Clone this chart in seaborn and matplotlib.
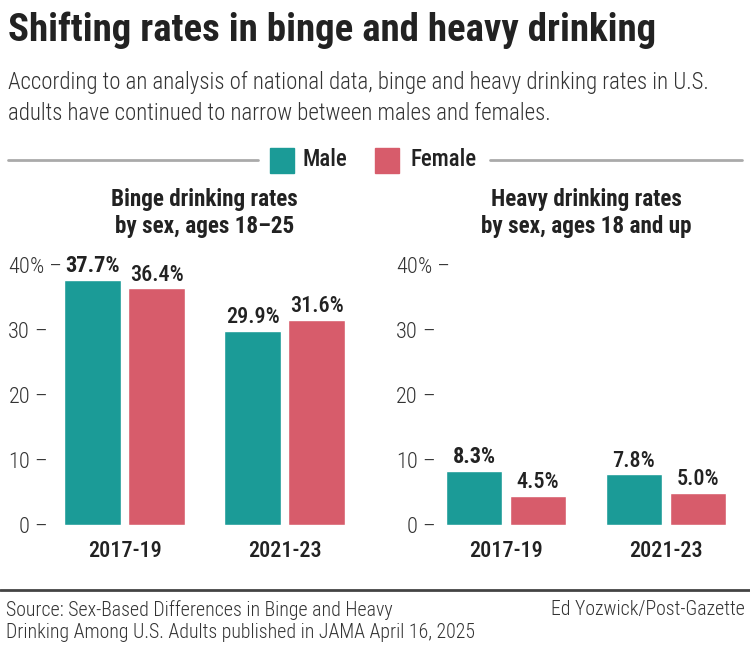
import matplotlib
matplotlib.use("Agg")
import matplotlib.pyplot as plt
import matplotlib.transforms as mtransforms
from matplotlib import font_manager
import pandas as pd
import seaborn as sns

periods = ["2017-19", "2021-23"]
sexes = ["Male", "Female"]
binge_male = [37.7, 29.9]
binge_female = [36.4, 31.6]
heavy_male = [8.3, 7.8]
heavy_female = [4.5, 5.0]
y_ticks = [0, 10, 20, 30, 40]
y_tick_suffix = [" –", " –", " –", " –", "% –"]

TEAL = "#1b9b97"
RED = "#d75c6b"
TEXT = "#222222"
SOFT = "#333333"

sns.set_theme(style="white")

# look for a condensed face; the reference uses a narrow sans
entries = [(f.name, str(f.stretch)) for f in font_manager.fontManager.ttflist]
names = {n for n, _ in entries}
narrow = None
for cand in ["Roboto Condensed", "Liberation Sans Narrow", "Open Sans Condensed",
             "Noto Sans Condensed", "DejaVu Sans Condensed"]:
    if cand in names:
        narrow = cand
        break
stretch = "normal"
if narrow is None:
    for n, s in entries:
        if s in ("condensed", "semi-condensed", "extra-condensed") or \
                ("Condensed" in n or "Narrow" in n):
            narrow = n
            stretch = s
            break
if narrow is None:
    narrow = "Roboto"
plt.rcParams["font.family"] = [narrow, "Roboto", "DejaVu Sans"]
plt.rcParams["font.stretch"] = stretch


def make_frame(male, female):
    rows = []
    for i, p in enumerate(periods):
        rows.append({"period": p, "sex": "Male", "rate": male[i]})
        rows.append({"period": p, "sex": "Female", "rate": female[i]})
    return pd.DataFrame(rows)


def draw_panel(ax, frame, title, num_gap):
    sns.barplot(data=frame, x="period", y="rate", hue="sex", hue_order=sexes,
                palette=[TEAL, RED], width=0.8, gap=0.11, saturation=1,
                legend=False, ax=ax)
    top = frame["rate"].max()
    for cont in ax.containers:
        for bar, v in zip(cont, cont.datavalues):
            ax.annotate(f"{v:.1f}%", (bar.get_x() + bar.get_width() / 2, v),
                        xytext=(0, 2), textcoords="offset points",
                        ha="center", va="bottom", fontsize=16, color=TEXT,
                        fontweight="bold" if v == top else "medium")
    ax.set_xlim(-0.5, 1.5)
    ax.set_ylim(0, 42)
    # numbers right-aligned, suffix hanging to the right (e.g. "40% –")
    ax.set_yticks(y_ticks)
    ax.set_yticklabels([str(t) for t in y_ticks], fontsize=16, color=SOFT,
                       fontweight="light")
    ax.tick_params(axis="y", length=0, pad=num_gap * 72 / 100)
    shift = mtransforms.ScaledTranslation(-num_gap / 100, 0, fig.dpi_scale_trans)
    trans = mtransforms.blended_transform_factory(ax.transAxes, ax.transData) + shift
    for t, suf in zip(y_ticks, y_tick_suffix):
        ax.text(0, t, suf, transform=trans, ha="left", va="center_baseline",
                fontsize=16, color=SOFT, fontweight="light")
    ax.tick_params(axis="x", length=0, pad=11, labelsize=16, labelcolor=TEXT)
    for lab in ax.get_xticklabels():
        lab.set_fontweight("medium")
    for s in ax.spines.values():
        s.set_visible(False)
    ax.set_xlabel("")
    ax.set_ylabel("")
    pos = ax.get_position()
    cx = pos.x0 + pos.width / 2
    fig.text(cx, 1 - 200 / 649, title[0], ha="center", va="center",
             fontsize=16.7, fontweight="bold", color=TEXT)
    fig.text(cx, 1 - 226 / 649, title[1], ha="center", va="center",
             fontsize=16.7, fontweight="bold", color=TEXT)


fig = plt.figure(figsize=(7.5, 6.49), dpi=100)
ax1 = fig.add_axes([44.5 / 750, 124 / 649, 320 / 750, 273 / 649])
ax2 = fig.add_axes([426 / 750, 124 / 649, 320 / 750, 273 / 649])

draw_panel(ax1, make_frame(binge_male, binge_female),
           ["Binge drinking rates", "by sex, ages 18–25"], 14.5)
draw_panel(ax2, make_frame(heavy_male, heavy_female),
           ["Heavy drinking rates", "by sex, ages 18 and up"], 8)

fig.text(8 / 750, 1 - 30 / 649, "Shifting rates in binge and heavy drinking",
         fontsize=28, fontweight="black", color=TEXT, va="center")
fig.text(8 / 750, 1 - 82 / 649,
         "According to an analysis of national data, binge and heavy drinking rates in U.S.",
         fontsize=16.5, color=SOFT, va="center", fontweight="light")
fig.text(8 / 750, 1 - 113 / 649,
         "adults have continued to narrow between males and females.",
         fontsize=16.5, color=SOFT, va="center", fontweight="light")

# legend row with rules
ly = 1 - 160 / 649
fig.add_artist(plt.Line2D([8 / 750, 258 / 750], [ly, ly], color="#aaaaaa", lw=2))
fig.add_artist(plt.Line2D([490 / 750, 742 / 750], [ly, ly], color="#aaaaaa", lw=2))
fig.add_artist(plt.Rectangle((270 / 750, 1 - 173 / 649), 24 / 750, 25 / 649,
                             color=TEAL, transform=fig.transFigure))
fig.add_artist(plt.Rectangle((375 / 750, 1 - 173 / 649), 24 / 750, 25 / 649,
                             color=RED, transform=fig.transFigure))
fig.text(303 / 750, ly, "Male", fontsize=16.5, color=TEXT, fontweight="medium", va="center")
fig.text(410 / 750, ly, "Female", fontsize=16.5, color=TEXT, fontweight="medium", va="center")

# footer
fy = 1 - 590 / 649
fig.add_artist(plt.Line2D([0, 1], [fy, fy], color="#444444", lw=2))
fig.text(6 / 750, 1 - 610 / 649, "Source: Sex-Based Differences in Binge and Heavy",
         fontsize=14.3, color=SOFT, va="center", fontweight="light")
fig.text(6 / 750, 1 - 633 / 649, "Drinking Among U.S. Adults published in JAMA April 16, 2025",
         fontsize=14.3, color=SOFT, va="center", fontweight="light")
fig.text(745 / 750, 1 - 610 / 649, "Ed Yozwick/Post-Gazette",
         fontsize=14.3, color=SOFT, va="center", ha="right", fontweight="light")

fig.savefig("out.png", dpi=100)
